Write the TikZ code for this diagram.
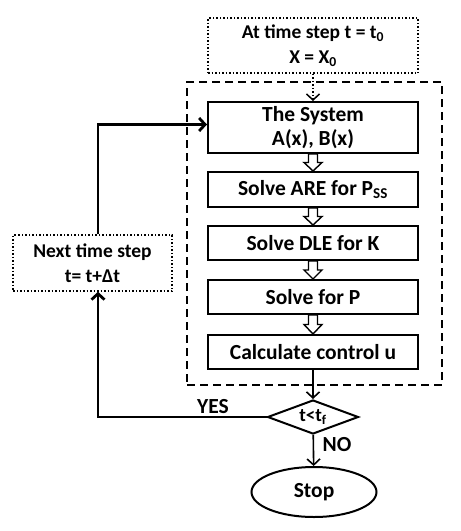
\documentclass[tikz,border=0pt]{standalone}
\usepackage{fontspec}
\setmainfont{Carlito}
\usetikzlibrary{shapes.geometric,arrows.meta,calc}
\newcommand{\hollowarrow}[2]{%
  \draw[line width=1.4pt, fill=white, line join=miter]
    ($(#1.south)+(-4.5,0)$) -- ($(#1.south)+(4.5,0)$)
    -- ($(#1.south)!0.5!(#2.north)+(4.5,0)$)
    -- ($(#1.south)!0.5!(#2.north)+(9,0)$)
    -- (#2.north)
    -- ($(#1.south)!0.5!(#2.north)+(-9,0)$)
    -- ($(#1.south)!0.5!(#2.north)+(-4.5,0)$) -- cycle;}
\begin{document}
\begin{tikzpicture}[x=1pt,y=-1pt,
  font=\bfseries\fontsize{21.5}{24}\selectfont,
  procbox/.style={draw, line width=2pt, minimum width=210pt, align=center, inner sep=0pt},
  dotbox/.style={draw, dotted, line width=1.5pt, align=center, inner sep=0pt, font=\bfseries\fontsize{19.5}{25}\selectfont},
  grpbox/.style={draw, dash pattern=on 8pt off 5pt, line width=1.5pt, inner sep=0pt},
  tip/.style={-{Straight Barb[length=6pt,width=13pt]}},
  flow/.style={line width=2.8pt, tip},
  thinflow/.style={line width=1.6pt, tip},
]
\useasboundingbox (0,0) rectangle (461,531);

\node[grpbox, minimum width=255pt, minimum height=303pt] (grp) at (314.5,233.5) {};

\node[dotbox, minimum width=210pt, minimum height=55pt] (init) at (313,45.5)
  {At time step t = t\textsubscript{0}\\X = X\textsubscript{0}};
\node[procbox, minimum height=51pt] (sys) at (313,127.5) {The System\\A(x), B(x)};
\node[procbox, minimum height=35pt] (are) at (313,189.5) {Solve ARE for P\textsubscript{SS}};
\node[procbox, minimum height=34pt] (dle) at (313,243) {Solve DLE for K};
\node[procbox, minimum height=34pt] (solp) at (313,297) {Solve for P};
\node[procbox, minimum height=34pt] (calcu) at (313,352) {Calculate control u};

\node[draw, diamond, line width=2pt, minimum width=91pt, minimum height=34pt, aspect=2.7, inner sep=0pt,
  font=\bfseries\fontsize{19}{20}\selectfont] (dec) at (313,417) {t<t\textsubscript{f}};
\node[draw, ellipse, line width=2pt, minimum width=125pt, minimum height=50pt, inner sep=0pt] (stop) at (314,492) {Stop};
\node[dotbox, minimum width=159pt, minimum height=56pt] (next) at (92.5,263) {Next time step\\t= t+Δt};

\node (yes) at (213,407) {YES};
\node (no) at (337,445) {NO};

\coordinate (lx) at (98,0);

\draw[dotted, line width=1.5pt, tip] (init) -- (sys);
\hollowarrow{sys}{are}
\hollowarrow{are}{dle}
\hollowarrow{dle}{solp}
\hollowarrow{solp}{calcu}
\draw[thinflow] (calcu) -- (dec);
\draw[thinflow] (dec) -- (stop);
\draw[flow] (dec.west) -- (dec.west -| lx) -- (next.south -| lx);
\draw[flow] (next.north -| lx) |- ($(sys.west)+(0,-3)$);
\end{tikzpicture}
\end{document}
